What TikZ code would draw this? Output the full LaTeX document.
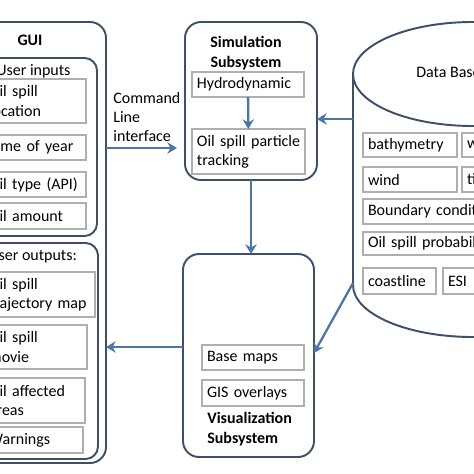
\documentclass[tikz,border=0pt]{standalone}
\usepackage{fontspec}
\setmainfont{Carlito}
\usetikzlibrary{arrows.meta}
\definecolor{panelLine}{RGB}{62,79,102}
\definecolor{arrowBlue}{RGB}{79,117,168}
\definecolor{itemGray}{RGB}{175,175,175}

\begin{document}
\begin{tikzpicture} [x = 0.02cm, y = -0.02cm, font = \fontsize{9.1}{11}\selectfont,
	panel/.style 2 args = {draw = panelLine, line width = 1.1pt, rounded corners = 0.32cm, anchor = north west,
		minimum width = #1*0.02cm, minimum height = #2*0.02cm, inner sep = 0pt, outer sep = 0pt},
	item/.style 2 args = {draw = itemGray, line width = 0.6pt, anchor = north west, align = left,
		text width = {(#1-10)*0.02cm}, minimum height = #2*0.02cm, inner xsep = 0.1cm, inner ysep = 0pt, outer sep = 0pt},
	title/.style = {inner sep = 0pt, font = \fontsize{9.1}{11}\selectfont\bfseries},
	link/.style = {draw = arrowBlue, line width = 1.3pt, -{Stealth[length = 5.5pt, width = 6.5pt]}}]

	\useasboundingbox (0, 0) rectangle (474, 474);
	\clip (0, 0) rectangle (474, 474);

	% GUI

	\node [panel = {154}{441}] (gui) at (-48, 22) {};
	\node [panel = {120}{178}, rounded corners = 0.25cm] (inputs) at (-23, 58) {};
	\node [panel = {121}{216}, rounded corners = 0.25cm] (outputs) at (-23, 243) {};

	\node [title] at (30, 40) {GUI};
	\node [anchor = west, inner sep = 0pt] at (-4, 71) {User inputs};
	\node [anchor = west, inner sep = 0pt] at (-12, 257) {User outputs:};

	%inputs
	\node [item = {102}{44}] (location) at (-16, 79) {Oil spill\\location};
	\node [item = {102}{25}] (season) at (-16, 135) {Time of year};
	\node [item = {102}{25}] (oilType) at (-16, 172) {Oil type (API)};
	\node [item = {102}{26}] (amount) at (-16, 203) {Oil amount};

	%outputs
	\node [item = {111}{45}] (trajectory) at (-16, 272) {Oil spill\\trajectory map};
	\node [item = {103}{44}] (movie) at (-16, 325) {Oil spill\\movie};
	\node [item = {101}{45}] (areas) at (-16, 378) {Oil affected\\areas};
	\node [item = {99}{26}] (warnings) at (-16, 427) {Warnings};

	% Simulation subsystem

	\node [panel = {132}{158}] (sim) at (185, 22) {};
	\node [title, align = center] at (246, 53) {Simulation\\Subsystem};
	\node [item = {112}{25}] (hydro) at (192, 72) {Hydrodynamic};
	\node [item = {113}{45}] (track) at (192, 129) {\mbox{Oil spill particle}\\tracking};

	\node [anchor = west, inner sep = 0pt, align = left] at (113, 117) {Command\\Line\\interface};

	% Visualization subsystem

	\node [panel = {131}{203}] (vis) at (183, 254) {};
	\node [item = {102}{25}] (baseMaps) at (202, 345) {Base maps};
	\node [item = {102}{26}] (gisLayers) at (202, 380) {GIS overlays};
	\node [title, anchor = west, align = left] at (207, 429) {Visualization\\Subsystem};

	% Data base (cylinder)

	\draw [panelLine, line width = 1.1pt] (353, 74) -- (353, 285)
		arc [start angle = 180, end angle = 0, x radius = 120, y radius = 52] -- (593, 74);
	\draw [panelLine, line width = 1.1pt] (473, 74) ellipse [x radius = 120, y radius = 52];
	\node [anchor = west, inner sep = 0pt] at (416, 72) {Data Base};

	\node [item = {94}{24}] (bathymetry) at (363, 133) {bathymetry};
	\node [item = {98}{24}] (waves) at (462, 133) {waves};
	\node [item = {94}{25}] (wind) at (363, 167) {wind};
	\node [item = {98}{25}] (tide) at (462, 167) {tide};
	\node [item = {197}{25}] (boundary) at (363, 199) {Boundary conditions};
	\node [item = {197}{23}] (probability) at (363, 232) {Oil spill probability};
	\node [item = {73}{26}] (coastline) at (363, 268) {coastline};
	\node [item = {80}{26}] (esi) at (443, 268) {ESI};

	% Draw connectors.

	\coordinate (cmdIn) at (106, 148);
	\coordinate (guiIn) at (106, 347);
	\coordinate (dbSim) at (353, 119);
	\coordinate (dbVis) at (353, 283);
	\coordinate (visIn) at (314, 353);

	\draw [link, shorten > = 0.16cm] (cmdIn) -- (sim.west |- cmdIn);
	\draw [link] (dbSim) -- (sim.east |- dbSim);
	\draw [link] (hydro) -- (track);
	\draw [link] (sim.south) -- (sim.south |- vis.north);
	\draw [link] (vis.west |- guiIn) -- (guiIn);
	\draw [link] (dbVis) -- (visIn);

\end{tikzpicture}
\end{document}
